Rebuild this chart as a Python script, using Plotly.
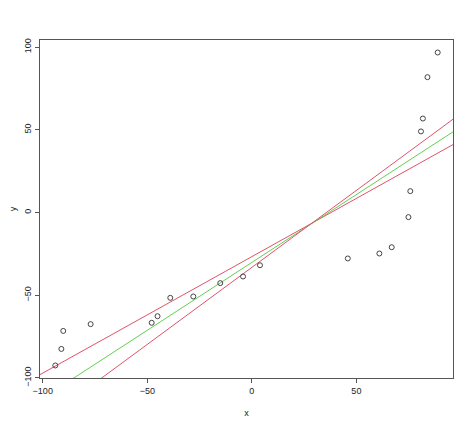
import numpy as np
import plotly.graph_objects as go

x_vals = [-94.0, -91.1, -90.2, -77.1, -47.9, -45.1, -39.0, -28.0, -15.1, -4.2,
          3.9, 45.9, 61.0, 66.9, 74.9, 75.8, 80.9, 81.8, 84.0, 88.9]
y_vals = [-92.5, -82.5, -71.6, -67.5, -66.7, -62.7, -51.6, -50.8, -42.7, -38.7,
          -31.9, -27.8, -24.8, -21.0, -2.8, 12.9, 49.0, 56.8, 81.8, 96.7]

# fitted line and the two bounding lines (intercept, slope)
line_names = ["upper", "fit", "lower"]
line_intercepts = [-26.7, -30.2, -33.2]
line_slopes = [0.704, 0.8205, 0.931]
line_colors = ["#DF536B", "#61D04F", "#DF536B"]

x_ticks = [-100, -50, 0, 50]
y_ticks = [-100, -50, 0, 50, 100]

# R style axis range: data range padded by 4% on each side
def r_range(v):
    lo, hi = min(v), max(v)
    pad = 0.04 * (hi - lo)
    return [lo - pad, hi + pad]

xr = r_range(x_vals)
yr = r_range(y_vals)

fig = go.Figure()

# lines span a bit past the axis range and get clipped by the plot area
xs = np.array([xr[0] - 20, xr[1] + 20])
for name, a, b, col in zip(line_names, line_intercepts, line_slopes, line_colors):
    fig.add_trace(go.Scatter(x=xs, y=a + b * xs, mode="lines", name=name,
                             line=dict(color=col, width=1)))

fig.add_trace(go.Scatter(x=x_vals, y=y_vals, mode="markers", name="data",
                         marker=dict(symbol="circle-open", size=5,
                                     color="#444444", line=dict(width=1))))

axis_common = dict(showgrid=False, zeroline=False, showline=True, mirror=True,
                   linecolor="#555555", linewidth=1, ticks="outside", ticklen=4,
                   tickcolor="#555555", automargin=False,
                   tickfont=dict(family="Liberation Sans", size=9, color="#222222"),
                   title_font=dict(family="Liberation Sans", size=9, color="#222222"))

fig.update_xaxes(range=xr, tickvals=x_ticks, title_text="x", title_standoff=14, **axis_common)
fig.update_yaxes(range=yr, tickvals=y_ticks, tickangle=-90, title_text="y",
                 title_standoff=19, **axis_common)

# page body adds ~8px offset, margins compensate for it
fig.update_layout(width=474, height=428, showlegend=False,
                  plot_bgcolor="white", paper_bgcolor="white",
                  margin=dict(l=32, r=29, t=32, b=58))

fig.write_html("out.html")
